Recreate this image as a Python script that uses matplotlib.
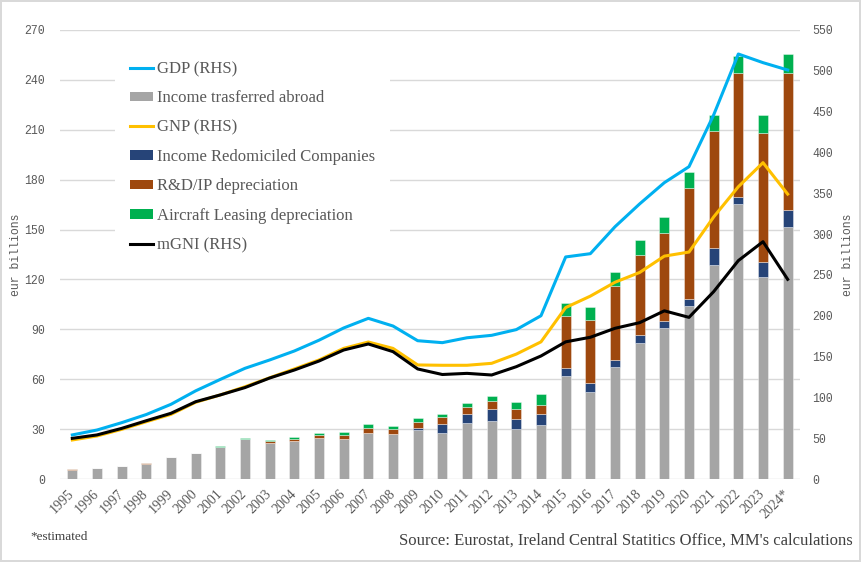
import numpy as np
import matplotlib
matplotlib.use("Agg")
import matplotlib.pyplot as plt
from matplotlib.patches import Patch
from matplotlib.lines import Line2D

# ------------------------------------------------------------
# Data (eur billions)
# ------------------------------------------------------------
years = ["1995", "1996", "1997", "1998", "1999", "2000", "2001", "2002",
         "2003", "2004", "2005", "2006", "2007", "2008", "2009", "2010",
         "2011", "2012", "2013", "2014", "2015", "2016", "2017", "2018",
         "2019", "2020", "2021", "2022", "2023", "2024*"]

# stacked bars, left axis
income_abroad = [5.6, 6.4, 7.7, 9.3, 13.0, 15.4, 19.2, 23.9, 21.8, 22.8,
                 24.6, 24.2, 27.9, 26.9, 29.3, 27.9, 33.5, 35.1, 29.9, 32.5,
                 61.9, 52.3, 67.5, 82.0, 90.6, 104.0, 128.9, 165.2, 121.6, 151.7]
redomiciled = [0, 0, 0, 0, 0, 0, 0, 0, 0, 0,
               0, 0, 0, 0, 1.4, 5.0, 5.4, 6.8, 6.4, 6.6,
               4.7, 5.6, 4.3, 4.8, 4.6, 4.0, 10.1, 4.4, 8.7, 10.0]
rd_ip = [0.2, 0.2, 0.3, 0.3, 0.2, 0, 0.1, 0.3, 1.0, 1.4,
         1.7, 2.1, 2.8, 3.0, 3.6, 4.1, 4.2, 4.8, 5.6, 5.6,
         31.6, 37.7, 44.2, 47.9, 52.9, 66.8, 70.3, 74.3, 77.9, 82.2]
aircraft = [0, 0, 0, 0, 0, 0.3, 0.5, 0.6, 0.6, 0.9,
            1.6, 2.2, 2.2, 2.0, 2.2, 2.3, 2.4, 3.2, 4.2, 6.2,
            7.4, 7.6, 8.5, 9.0, 9.6, 9.8, 9.6, 10.6, 10.7, 11.5]

# lines, right axis
gdp = [54, 60, 69, 79, 91.5, 108, 122, 135.6, 145.8, 156.8,
       170, 185, 196.8, 187.4, 169.4, 167, 173, 176, 183, 200,
       272, 276, 309, 337, 363, 382.6, 446, 520.6, 510, 501]
gnp = [47.8, 52.7, 60.8, 70.2, 79.2, 94, 103, 113, 124, 134.8,
       145.8, 160, 167.8, 160, 139.7, 139.3, 139.3, 141.7, 153, 168,
       210, 224, 241, 253, 273, 278, 321, 358, 387.5, 349]
mgni = [49.8, 54, 62, 71.4, 80.5, 94.7, 103, 112, 123.7, 133.5,
        144.5, 158, 165.4, 156, 134.8, 128, 129.4, 127.4, 137.6, 150.7,
        168, 173.6, 184.6, 191.5, 206, 198, 229.5, 267.5, 290.7, 244.6]

# colours
c_gdp = "#00B0F0"
c_gray = "#A5A5A5"
c_gnp = "#FFC000"
c_blue = "#264478"
c_brown = "#9E480E"
c_green = "#00B050"
c_text = "#595959"

serif = "Liberation Serif"
mono = "Liberation Mono"

# ------------------------------------------------------------
# Figure
# ------------------------------------------------------------
fig = plt.figure(figsize=(8.61, 5.62), dpi=100)
fig.patch.set_edgecolor("#D9D9D9")
fig.patch.set_linewidth(1.5)
ax = fig.add_axes([60 / 861, 1 - 479 / 562, 740 / 861, 449 / 562])

x = np.arange(len(years))
w = 0.41
edge = (1, 1, 1, 0.45)

b1 = np.array(income_abroad)
b2 = b1 + np.array(redomiciled)
b3 = b2 + np.array(rd_ip)

ax.bar(x, income_abroad, w, color=c_gray, edgecolor=edge, lw=0.6, zorder=2)
ax.bar(x, redomiciled, w, bottom=b1, color=c_blue, edgecolor=edge, lw=0.6, zorder=2)
ax.bar(x, rd_ip, w, bottom=b2, color=c_brown, edgecolor=edge, lw=0.6, zorder=2)
ax.bar(x, aircraft, w, bottom=b3, color=c_green, edgecolor=edge, lw=0.6, zorder=2)

ax.set_xlim(-0.5, len(years) - 0.5)
ax.set_ylim(0, 270)
ax.set_yticks(np.arange(0, 271, 30))
ax.grid(axis="y", color="#D9D9D9", lw=1, zorder=0)
ax.set_axisbelow(True)
for s in ax.spines.values():
    s.set_visible(False)
ax.tick_params(axis="both", length=0)
ax.tick_params(axis="y", pad=11, labelsize=8.3, labelcolor=c_text)
for lab in ax.get_yticklabels():
    lab.set_fontfamily(mono)

ax.set_xticks(x)
ax.set_xticklabels(years, rotation=45, ha="right", va="center",
                   rotation_mode="anchor", fontsize=10, color=c_text,
                   fontfamily=serif)
ax.tick_params(axis="x", pad=9)
ax.set_ylabel("eur billions", fontsize=8.3, color=c_text, fontfamily=mono)
ax.yaxis.set_label_coords((22 - 60) / 740, 0.5)

# right axis with the lines
ax2 = ax.twinx()
ax2.set_ylim(0, 550)
ax2.set_yticks(np.arange(0, 551, 50))
for s in ax2.spines.values():
    s.set_visible(False)
ax2.tick_params(axis="y", length=0, pad=9, labelsize=8.3, labelcolor=c_text)
for lab in ax2.get_yticklabels():
    lab.set_fontfamily(mono)
ax2.set_ylabel("eur billions", fontsize=8.3, color=c_text, fontfamily=mono,
               rotation=90)
ax2.yaxis.set_label_coords((842 - 60) / 740, 0.5)

ax2.plot(x, gdp, color=c_gdp, lw=2.2, zorder=3)
ax2.plot(x, gnp, color=c_gnp, lw=2.2, zorder=3)
ax2.plot(x, mgni, color="black", lw=2.2, zorder=4)

# legend (mixed order, as in the original)
handles = [
    Line2D([0], [0], color=c_gdp, lw=2.2),
    Patch(facecolor=c_gray),
    Line2D([0], [0], color=c_gnp, lw=2.2),
    Patch(facecolor=c_blue),
    Patch(facecolor=c_brown),
    Patch(facecolor=c_green),
    Line2D([0], [0], color="black", lw=2.2),
]
labels = ["GDP (RHS)", "Income trasferred abroad", "GNP (RHS)",
          "Income Redomiciled Companies", "R&D/IP depreciation",
          "Aircraft Leasing depreciation", "mGNI (RHS)"]
leg = ax2.legend(handles, labels, loc="upper left",
                 bbox_to_anchor=(115 / 861, 1 - 46 / 562),
                 bbox_transform=fig.transFigure, borderaxespad=0,
                 frameon=True, facecolor="white", edgecolor="none",
                 framealpha=1, fancybox=False, borderpad=0.9,
                 handlelength=1.4, handleheight=0.5, handletextpad=0.2,
                 labelspacing=0.8,
                 prop={"family": serif, "size": 12})
for t in leg.get_texts():
    t.set_color(c_text)

# footer notes
fig.text(30 / 861, 1 - 537 / 562, "*estimated", fontsize=9.5,
         fontfamily=serif, color="#404040", va="center", ha="left")
fig.text(853 / 861, 1 - 541 / 562,
         "Source: Eurostat, Ireland Central Statitics Office, MM's calculations",
         fontsize=12, fontfamily=serif, color="#404040", va="center", ha="right")

plt.savefig("out.png", dpi=100)
